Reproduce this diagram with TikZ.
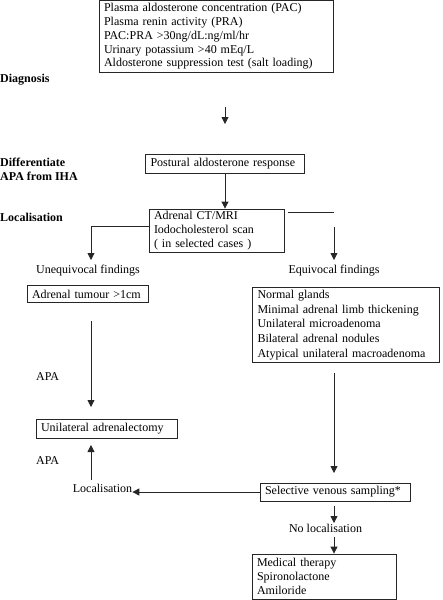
\documentclass[tikz,border=0pt]{standalone}
\usepackage{fontspec}
\setmainfont{Liberation Serif}
\usetikzlibrary{arrows.meta,calc}
\begin{document}
\begin{tikzpicture}[x=1pt,y=-1pt,
  every node/.style={font=\fontsize{12}{13.8}\selectfont, inner sep=0pt},
  box/.style={draw=black!85, line width=0.8pt, inner xsep=5pt, inner ysep=1pt, align=left},
  lbl/.style={font=\fontsize{12}{14.5}\selectfont\bfseries, align=left, anchor=west},
  ln/.style={draw=black!85, line width=0.8pt},
  arr/.style={ln, -{Triangle[length=7pt,width=7pt]}}]
\useasboundingbox (0,0) rectangle (443,600);
% boxes
\node[box, minimum width=234, minimum height=72, text width=224] (top) at (216,36.5)
  {Plasma aldosterone concentration (PAC)\\Plasma renin activity (PRA)\\PAC:PRA >30ng/dL:ng/ml/hr\\Urinary potassium >40 mEq/L\\Aldosterone suppression test (salt loading)};
\node[box, minimum width=159, minimum height=19, text width=149] (pa) at (225,163.5) {Postural aldosterone response};
\node[box, minimum width=135, minimum height=43, text width=125] (ct) at (216.5,230.5) {Adrenal CT/MRI\\Iodocholesterol scan\\( in selected cases )};
\node[box, minimum width=121, minimum height=17, text width=111] (at) at (87.5,294) {Adrenal tumour >1cm};
\node[box, minimum width=187, minimum height=75, text width=177, font=\fontsize{12}{14.6}\selectfont] (eq) at (346,325)
  {Normal glands\\Minimal adrenal limb thickening\\Unilateral microadenoma\\Bilateral adrenal nodules\\Atypical unilateral macroadenoma};
\node[box, minimum width=141, minimum height=19, text width=131] (ua) at (106.5,428.5) {Unilateral adrenalectomy};
\node[box, minimum width=150, minimum height=18, text width=140] (svs) at (335,492) {Selective venous sampling*};
\node[box, minimum width=144, minimum height=45, text width=134] (med) at (324,576.5) {Medical therapy\\Spironolactone\\Amiloride};
% labels
\node[lbl] (diag) at (0,80) {Diagnosis};
\node[lbl] (diff) at (0,169.5) {Differentiate\\APA from IHA};
\node[lbl] (locb) at (0,217) {Localisation};
\node (uf) at (88,271) {Unequivocal findings};
\node (ef) at (334,271) {Equivocal findings};
\node[anchor=west] (apa1) at (36,377) {APA};
\node[anchor=west] (apa2) at (36,461) {APA};
\node (loc) at (102.5,488) {Localisation};
\node (nl) at (325.5,528) {No localisation};
% coordinates
\coordinate (a1s) at (225,107);
\coordinate (a1e) at (225,124);
\coordinate (lc) at (91,226);
\coordinate (ltip) at (91,260);
\coordinate (rh1) at (288,212);
\coordinate (rh2) at (334,212);
\coordinate (rs) at (334,227);
\coordinate (rtip) at (334,260);
\coordinate (lvs) at (91,321);
\coordinate (lve) at (91,407);
\coordinate (rvs) at (334,373);
\coordinate (rve) at (334,473);
\coordinate (ups) at (91,480);
\coordinate (upe) at (91,445);
\coordinate (n1s) at (334,506);
\coordinate (n1e) at (334,523);
\coordinate (n2s) at (334,537);
% connectors
\draw[arr] (a1s) -- (a1e);
\draw[arr] (pa.south) -- (pa.south |- ct.north);
\draw[ln] (lc -| ct.west) -- (lc);
\draw[arr] (lc) -- (ltip);
\draw[ln] (rh1) -- (rh2);
\draw[arr] (rs) -- (rtip);
\draw[arr] (lvs) -- (lve);
\draw[arr] (rvs) -- (rve);
\draw[arr] (svs.west) -- (loc.east |- svs.west);
\draw[arr] (ups) -- (upe);
\draw[arr] (n1s) -- (n1e);
\draw[arr] (n2s) -- (n2s |- med.north);
\end{tikzpicture}
\end{document}
